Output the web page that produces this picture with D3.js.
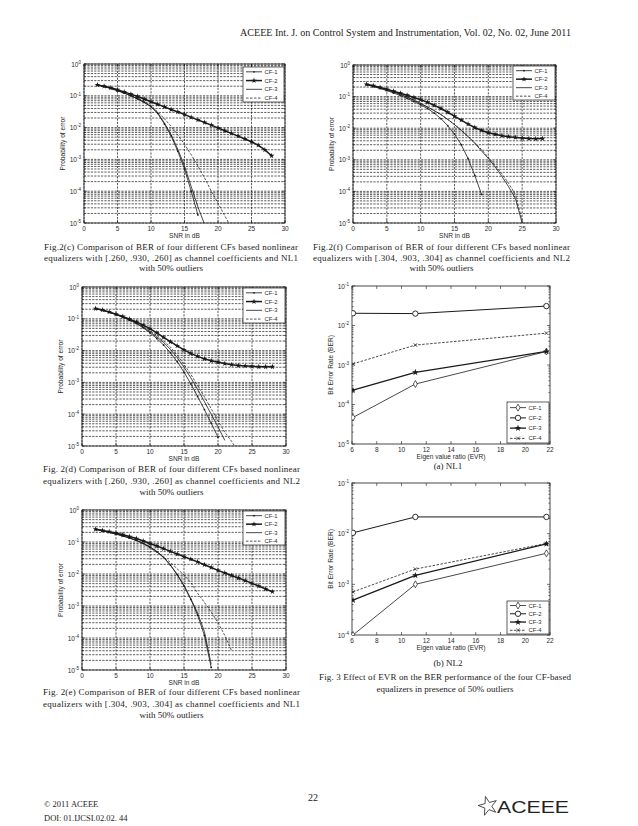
<!DOCTYPE html>
<html><head><meta charset="utf-8">
<script src="https://cdn.jsdelivr.net/npm/d3@7"></script>
<style>body{margin:0;background:#fff}svg{display:block}</style>
</head><body><svg id="page" width="638" height="826"></svg>
<script>
// ---------- DATA ----------
const snrAxis = [2,3,4,5,6,7,8,9,10,11,12,13,14,15,16,17,18,19,20,21,22,23,24,25,26,27,28];
const snrTicks = [0,5,10,15,20,25,30];
const evrTicks = [6,8,10,12,14,16,18,20,22];
const evrValues = [6.08, 11.12, 21.71];
const cfNames = ["CF-1","CF-2","CF-3","CF-4"];

// Fig.2(c)
const c_cf1 = [0.22,0.195,0.17,0.145,0.122,0.1,0.08,0.062,0.045,0.028,0.013,0.0055,0.0018,0.0005,0.0001,0.000018];
const c_cf2 = [0.22,0.2,0.178,0.155,0.133,0.113,0.095,0.079,0.065,0.054,0.045,0.037,0.031,0.026,0.021,0.0175,0.0145,0.012,0.0098,0.008,0.0066,0.0054,0.0044,0.0036,0.0028,0.002,0.0013];
const c_cf3 = [0.22,0.195,0.17,0.145,0.122,0.1,0.08,0.062,0.046,0.029,0.014,0.006,0.0021,0.00062,0.00014,0.000032,0.000009];
const c_cf4 = [0.22,0.195,0.17,0.146,0.124,0.103,0.084,0.067,0.05,0.031,0.019,0.011,0.0058,0.003,0.0014,0.00062,0.00026,0.0001,0.000042,0.000017,0.000007];
// Fig.2(f)
const f_cf1 = [0.24,0.21,0.18,0.155,0.13,0.108,0.088,0.07,0.055,0.042,0.03,0.02,0.012,0.0065,0.003,0.0011,0.00032,0.00008];
const f_cf2 = [0.245,0.22,0.195,0.17,0.148,0.128,0.11,0.094,0.08,0.066,0.053,0.042,0.032,0.024,0.018,0.0135,0.0105,0.0085,0.0072,0.0064,0.0058,0.0054,0.0051,0.0049,0.0047,0.0046,0.0047];
const f_cf3 = [0.24,0.215,0.19,0.165,0.14,0.118,0.097,0.078,0.06,0.047,0.036,0.027,0.019,0.013,0.0085,0.0054,0.0033,0.0019,0.0011,0.0006,0.0003,0.00014,0.00006,0.00001];
const f_cf4 = [0.24,0.215,0.19,0.165,0.14,0.118,0.097,0.078,0.06,0.047,0.036,0.027,0.019,0.013,0.0087,0.0056,0.0035,0.0021,0.0012,0.00068,0.00036,0.00018,0.00008,0.000012];
// Fig.2(d)
const d_cf1 = [0.21,0.185,0.16,0.135,0.112,0.09,0.071,0.052,0.036,0.024,0.015,0.0085,0.0045,0.0021,0.0009,0.00036,0.00014,0.000052,0.000019];
const d_cf2 = [0.21,0.19,0.165,0.14,0.118,0.098,0.08,0.063,0.049,0.036,0.026,0.019,0.014,0.0105,0.0082,0.0066,0.0055,0.0048,0.0043,0.0039,0.0036,0.0034,0.0033,0.0032,0.0031,0.0031,0.0031];
const d_cf3 = [0.21,0.185,0.16,0.136,0.114,0.093,0.074,0.055,0.039,0.027,0.018,0.011,0.006,0.003,0.0014,0.0006,0.00025,0.0001,0.00004,0.000015];
const d_cf4 = [0.21,0.186,0.162,0.138,0.116,0.095,0.076,0.058,0.042,0.03,0.02,0.013,0.0072,0.0037,0.0018,0.0008,0.00035,0.00015,0.000062,0.000027,0.000014,0.0000065];
// Fig.2(e)
const e_cf1 = [0.25,0.225,0.2,0.178,0.155,0.133,0.112,0.09,0.07,0.05,0.033,0.019,0.0095,0.0042,0.0016,0.00052,0.00012,0.000012];
const e_cf2 = [0.25,0.23,0.21,0.19,0.168,0.148,0.128,0.108,0.09,0.075,0.062,0.051,0.042,0.035,0.029,0.024,0.0195,0.016,0.013,0.0108,0.009,0.0075,0.0062,0.0051,0.0042,0.0034,0.0028];
const e_cf3 = [0.25,0.225,0.2,0.178,0.155,0.133,0.112,0.09,0.07,0.05,0.033,0.019,0.0097,0.0044,0.0017,0.0006,0.00016,0.000015];
const e_cf4 = [0.25,0.225,0.2,0.178,0.155,0.133,0.112,0.09,0.065,0.048,0.034,0.023,0.0145,0.0093,0.0054,0.0025,0.0013,0.00065,0.0003,0.00012,0.00004];
// Fig.3 (a) NL1
const nl1_cf1 = [0.000047,0.00033,0.0022];
const nl1_cf2 = [0.0204,0.02,0.031];
const nl1_cf3 = [0.00023,0.00065,0.0022];
const nl1_cf4 = [0.00107,0.0032,0.0064];
// Fig.3 (b) NL2
const nl2_cf1 = [0.0001,0.001,0.0041];
const nl2_cf2 = [0.0104,0.0214,0.0214];
const nl2_cf3 = [0.00049,0.0015,0.0063];
const nl2_cf4 = [0.00071,0.002,0.0064];

// ---------- DRAWING ----------
const svg = d3.select("#page");
const SANS = "'Liberation Sans', Arial, sans-serif";
const SERIF = "'Liberation Serif', 'Times New Roman', serif";
const INK = "#1a1a1a";
const TXT = "#2a2a2a";

function isDecade(v){ const l = Math.log10(v); return Math.abs(l - Math.round(l)) < 1e-9; }
function sup(sel, v){
  sel.append("tspan").text("10");
  sel.append("tspan").attr("dy", -2.8).attr("font-size", 4.6).text(Math.round(Math.log10(v)));
}
function zip(xs, ys){ return ys.map((v,i)=>[xs[i], v]); }

let clipN = 0;
function frame(box, x, y, opts){
  const g = svg.append("g");
  const cid = "clip" + (clipN++);
  svg.append("clipPath").attr("id", cid).append("rect")
    .attr("x", box.l).attr("y", box.t).attr("width", box.r-box.l).attr("height", box.b-box.t);
  const yt = y.ticks();
  if (opts.grid){
    const gg = g.append("g").attr("stroke", "#151515").attr("stroke-width", 0.7).attr("stroke-dasharray", "2.2,1.2");
    gg.selectAll(".h").data(yt).join("line").attr("x1", box.l).attr("x2", box.r)
      .attr("y1", d=>y(d)).attr("y2", d=>y(d));
    gg.selectAll(".v").data(opts.xticks).join("line").attr("y1", box.t).attr("y2", box.b)
      .attr("x1", d=>x(d)).attr("x2", d=>x(d));
  }
  // ticks inside
  const tk = g.append("g").attr("stroke", INK).attr("stroke-width", 0.6);
  opts.xticks.forEach(v=>{
    tk.append("line").attr("x1", x(v)).attr("x2", x(v)).attr("y1", box.b).attr("y2", box.b-3);
    tk.append("line").attr("x1", x(v)).attr("x2", x(v)).attr("y1", box.t).attr("y2", box.t+3);
  });
  yt.forEach(v=>{
    const L = isDecade(v) ? 3 : 1.6;
    tk.append("line").attr("y1", y(v)).attr("y2", y(v)).attr("x1", box.l).attr("x2", box.l+L);
    tk.append("line").attr("y1", y(v)).attr("y2", y(v)).attr("x1", box.r).attr("x2", box.r-L);
  });
  g.append("rect").attr("x", box.l).attr("y", box.t).attr("width", box.r-box.l).attr("height", box.b-box.t)
    .attr("fill", "none").attr("stroke", INK).attr("stroke-width", 0.8);
  // tick labels
  g.selectAll(".xl").data(opts.xticks).join("text").attr("x", d=>x(d)).attr("y", box.b+7.5)
    .attr("text-anchor", "middle").attr("font-family", SANS).attr("font-size", 6.5).attr("fill", TXT).text(d=>d);
  yt.filter(isDecade).forEach(v=>{
    const t = g.append("text").attr("x", box.l-3).attr("y", y(v)+2.5).attr("text-anchor", "end")
      .attr("font-family", SANS).attr("font-size", 6.5).attr("fill", TXT);
    sup(t, v);
  });
  g.append("text").attr("x", (box.l+box.r)/2).attr("y", box.b+14.5).attr("text-anchor", "middle")
    .attr("font-family", SANS).attr("font-size", 6.6).attr("fill", TXT).text(opts.xlabel);
  g.append("text").attr("transform", `translate(${box.l-opts.ylabOff},${(box.t+box.b)/2}) rotate(-90)`)
    .attr("text-anchor", "middle").attr("font-family", SANS).attr("font-size", 6.6).attr("fill", TXT).text(opts.ylabel);
  return {g, cid};
}

function marker(g, type, cx, cy){
  if (type === "dot") g.append("circle").attr("cx", cx).attr("cy", cy).attr("r", 0.9).attr("fill", INK);
  else if (type === "bigdot") g.append("path").attr("d", d3.symbol(d3.symbolStar, 10)()).attr("transform", `translate(${cx},${cy})`).attr("fill", INK);
  else if (type === "diamond") g.append("path").attr("d", d3.symbol(d3.symbolDiamond, 14)()).attr("transform", `translate(${cx},${cy})`).attr("fill", "#fff").attr("stroke", INK).attr("stroke-width", 0.7);
  else if (type === "circle") g.append("circle").attr("cx", cx).attr("cy", cy).attr("r", 2.7).attr("fill", "#fff").attr("stroke", INK).attr("stroke-width", 0.9);
  else if (type === "star") g.append("path").attr("d", d3.symbol(d3.symbolStar, 14)()).attr("transform", `translate(${cx},${cy})`).attr("fill", INK);
  else if (type === "plus") g.append("path").attr("d", d3.symbol(d3.symbolTimes, 10)()).attr("transform", `translate(${cx},${cy})`).attr("fill", "none").attr("stroke", INK).attr("stroke-width", 0.7);
}

function series(g, cid, x, y, list){
  const line = d3.line().x(d=>x(d[0])).y(d=>y(d[1]));
  const sg = g.append("g").attr("clip-path", `url(#${cid})`);
  list.forEach(s=>{
    sg.append("path").attr("d", line(s.pts)).attr("fill", "none").attr("stroke", INK)
      .attr("stroke-width", s.w).attr("stroke-dasharray", s.dash || null).attr("stroke-linejoin", "round");
    if (s.m) s.pts.forEach(p=>marker(sg, s.m, x(p[0]), y(p[1])));
  });
}

function legend(lb, list, rowH){
  const g = svg.append("g");
  g.append("rect").attr("x", lb.l).attr("y", lb.t).attr("width", lb.r-lb.l).attr("height", lb.b-lb.t)
    .attr("fill", "#fff").attr("stroke", INK).attr("stroke-width", 0.7);
  list.forEach((s,i)=>{
    const yy = lb.t + rowH*0.55 + i*rowH;
    const x1 = lb.l+3, x2 = lb.l+19;
    g.append("line").attr("x1", x1).attr("x2", x2).attr("y1", yy).attr("y2", yy).attr("stroke", INK)
      .attr("stroke-width", s.w).attr("stroke-dasharray", s.dash || null);
    if (s.m) marker(g, s.m, (x1+x2)/2, yy);
    g.append("text").attr("x", x2+2.5).attr("y", yy+2).attr("font-family", SANS).attr("font-size", 5.8)
      .attr("fill", TXT).text(cfNames[i]);
  });
}

function berChart(box, lb, data){
  const x = d3.scaleLinear().domain([0,30]).range([box.l, box.r]);
  const y = d3.scaleLog().domain([1e-5,1]).range([box.b, box.t]);
  const {g, cid} = frame(box, x, y, {grid:true, xticks:snrTicks, xlabel:"SNR in dB", ylabel:"Probability of error", ylabOff:19});
  const styles = [
    {w:0.8, m:"dot"}, {w:1.5, m:"bigdot"}, {w:0.8}, {w:0.75, dash:"2.5,1.5"}
  ];
  const list = data.map((d,i)=>Object.assign({pts: zip(snrAxis, d)}, styles[i]));
  series(g, cid, x, y, list);
  legend(lb, styles, (lb.b-lb.t)/4);
}

function evrChart(box, lb, ydom, data){
  const x = d3.scaleLinear().domain([6,22]).range([box.l, box.r]);
  const y = d3.scaleLog().domain(ydom).range([box.b, box.t]);
  const {g, cid} = frame(box, x, y, {grid:false, xticks:evrTicks, xlabel:"Eigen value ratio (EVR)", ylabel:"Bit Error Rate (BER)", ylabOff:19});
  const styles = [
    {w:0.8, m:"diamond"}, {w:1.0, m:"circle"}, {w:1.3, m:"star"}, {w:0.8, dash:"2.5,1.5", m:"plus"}
  ];
  const list = data.map((d,i)=>Object.assign({pts: zip(evrValues, d)}, styles[i]));
  series(g, cid, x, y, list);
  legend(lb, styles, (lb.b-lb.t)/4);
}

berChart({l:84,t:64,r:285,b:223}, {l:243,t:67,r:284,b:102}, [c_cf1,c_cf2,c_cf3,c_cf4]);
berChart({l:353,t:65,r:556,b:223}, {l:513,t:66,r:555,b:100}, [f_cf1,f_cf2,f_cf3,f_cf4]);
berChart({l:82,t:287,r:286,b:446}, {l:243,t:288,r:285,b:323}, [d_cf1,d_cf2,d_cf3,d_cf4]);
berChart({l:82,t:510,r:286,b:670}, {l:243,t:511,r:285,b:545}, [e_cf1,e_cf2,e_cf3,e_cf4]);
evrChart({l:352,t:286,r:550,b:444}, {l:507,t:402,r:549,b:443}, [1e-5,1e-1], [nl1_cf1,nl1_cf2,nl1_cf3,nl1_cf4]);
evrChart({l:352,t:483,r:550,b:635}, {l:507,t:601,r:549,b:634}, [1e-4,1e-1], [nl2_cf1,nl2_cf2,nl2_cf3,nl2_cf4]);

// ---------- TEXT ----------
function para(lines, x0, x1, y0, lh){
  lines.forEach((ln,i)=>{
    const t = svg.append("text").attr("y", y0+i*lh).attr("font-family", SERIF).attr("font-size", 9).attr("fill", "#222").text(ln[0]);
    if (ln[1]) t.attr("x", x0).attr("textLength", x1-x0).attr("lengthAdjust", "spacing");
    else t.attr("x", (x0+x1)/2).attr("text-anchor", "middle");
  });
}
para([["Fig.2(c) Comparison of BER of four different CFs based nonlinear",1],
      ["equalizers with [.260, .930, .260] as channel coefficients and NL1",1],
      ["with 50% outliers",0]], 44, 298, 250, 10.5);
para([["Fig.2(f) Comparison of BER of four different CFs based nonlinear",1],
      ["equalizers with [.304, .903, .304] as channel coefficients and NL2",1],
      ["with 50% outliers",0]], 313, 570, 250, 10.5);
para([["Fig. 2(d) Comparison of BER of four different CFs based nonlinear",1],
      ["equalizers with [.260, .930, .260] as channel coefficients and NL2",1],
      ["with 50% outliers",0]], 43, 300, 472, 11.5);
para([["Fig. 2(e) Comparison of BER of four different CFs based nonlinear",1],
      ["equalizers with [.304, .903, .304] as channel coefficients and NL1",1],
      ["with 50% outliers",0]], 43, 300, 695, 11.5);
para([["(a) NL1",0]], 420, 476, 469, 10);
para([["(b) NL2",0]], 420, 476, 666, 10);
para([["Fig. 3 Effect of EVR on the BER performance of the four CF-based",1],
      ["equalizers in presence of 50% outliers",0]], 319, 571, 680, 11.5);

svg.append("text").attr("x", 240).attr("y", 36).attr("textLength", 331).attr("lengthAdjust", "spacingAndGlyphs")
  .attr("font-family", SERIF).attr("font-size", 10.5).attr("fill", "#222")
  .text("ACEEE Int. J. on Control System and Instrumentation, Vol. 02, No. 02, June 2011");
svg.append("text").attr("x", 313).attr("y", 801).attr("text-anchor", "middle").attr("font-family", SERIF)
  .attr("font-size", 10).attr("fill", "#222").text("22");
svg.append("text").attr("x", 44).attr("y", 807).attr("font-family", SERIF).attr("font-size", 8.5).attr("fill", "#222").text("© 2011 ACEEE");
svg.append("text").attr("x", 44).attr("y", 821).attr("font-family", SERIF).attr("font-size", 8.5).attr("fill", "#222").text("DOI: 01.IJCSI.02.02. 44");
// logo
svg.append("path").attr("d", d3.symbol(d3.symbolStar, 110)()).attr("transform", "translate(488,806) rotate(-15)")
  .attr("fill", "none").attr("stroke", "#333").attr("stroke-width", 0.8);
svg.append("text").attr("x", 497).attr("y", 813).attr("textLength", 72).attr("lengthAdjust", "spacingAndGlyphs")
  .attr("font-family", SANS).attr("font-size", 16).attr("fill", "#222").text("ACEEE");
</script></body></html>
